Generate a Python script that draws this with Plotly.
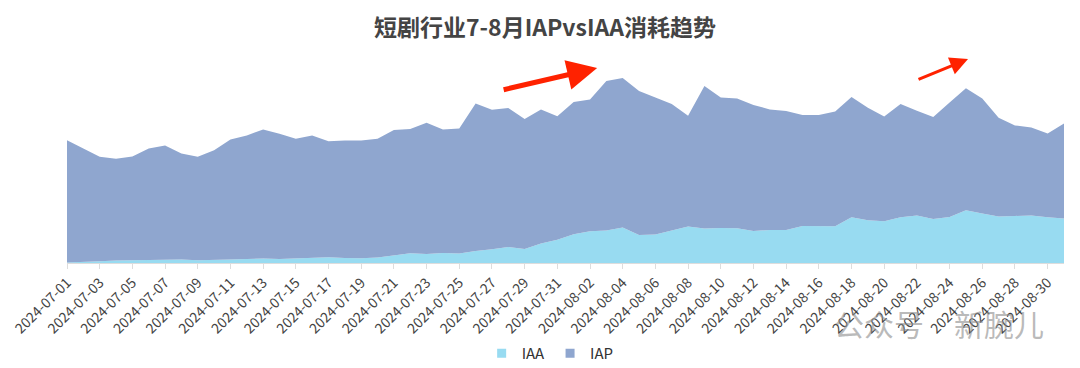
import pandas as pd
import plotly.graph_objects as go

dates = pd.date_range("2024-07-01", "2024-08-31", freq="D")

iaa = [0.5, 1.4, 1.7, 2.4, 2.7, 2.7, 3.4, 3.4, 2.7, 2.7,
       3.4, 4.0, 4.4, 4.0, 4.7, 4.7, 5.7, 5.0, 4.7, 5.4,
       7.7, 9.7, 9.0, 10.0, 9.4, 12.0, 13.7, 16.0, 14.0, 19.5,
       23.2, 28.7, 31.7, 32.4, 35.4, 28.0, 28.4, 32.4, 36.4, 34.4,
       35.0, 34.7, 32.0, 33.0, 33.0, 37.0, 36.7, 36.7, 45.7, 42.7,
       41.7, 45.7, 47.4, 44.0, 46.0, 52.7, 49.4, 46.4, 47.0, 47.4,
       45.7, 44.4]

iap = [122.2, 113.0, 104.3, 101.6, 103.7, 111.7, 114.0, 106.0, 103.3, 110.0,
       120.0, 123.4, 129.0, 125.0, 119.3, 122.7, 116.0, 117.4, 117.7, 118.6,
       125.0, 124.0, 131.0, 123.4, 125.0, 147.4, 139.3, 138.7, 129.7, 133.9,
       123.3, 132.0, 131.7, 149.3, 149.3, 143.7, 137.0, 126.3, 110.6, 142.3,
       130.4, 129.7, 125.7, 120.4, 118.7, 110.7, 111.0, 114.7, 120.0, 112.3,
       104.7, 113.0, 104.6, 101.7, 114.4, 121.7, 115.0, 98.6, 90.4, 88.0,
       83.7, 95.0]

series_names = ["IAA", "IAP"]
series_colors = ["#98dbf1", "#8fa6cf"]
title_text = "短剧行业7-8月IAPvsIAA消耗趋势"
watermark_text = "公众号\u3000新腕儿"
FONT = "Noto Sans CJK SC"

# page has an 8px body margin: the figure starts at (8, 8) in the window
OFF = 8
W, H = 1080 - OFF, 368 - OFF
L, R, T, B = 58.7, 16, 32, 105.3
pw, ph = W - L - R, H - T - B

fig = go.Figure()
for name, vals, col in zip(series_names, [iaa, iap], series_colors):
    fig.add_trace(go.Scatter(x=dates, y=vals, name=name, mode="lines", stackgroup="one",
                             line=dict(width=0, color=col), fillcolor=col, showlegend=False))
for name, col in zip(series_names, series_colors):
    fig.add_trace(go.Scatter(x=[None], y=[None], name=name, mode="markers",
                             marker=dict(symbol="square", size=9, color=col), showlegend=True))

def px(x, y):
    x -= OFF
    y -= OFF
    return (x - L) / pw, (H - B - y) / ph

annotations = []
for (hx, hy, tx, ty, w) in [(597, 68, 502, 90, 5), (968, 59, 917, 80, 3)]:
    x, y = px(hx, hy)
    annotations.append(dict(x=x, y=y, xref="paper", yref="paper", ax=tx - hx, ay=ty - hy,
                            showarrow=True, arrowhead=2, arrowsize=1.2, arrowwidth=w,
                            arrowcolor="#ff2200", text=""))
wx, wy = px(939, 323)
annotations.append(dict(x=wx, y=wy, xref="paper", yref="paper", text=watermark_text,
                        xanchor="center", yanchor="middle",
                        showarrow=False, font=dict(family=FONT, size=30, color="rgba(140,140,140,0.6)")))

lx, ly = px(550, 353)
fig.update_layout(
    width=W, height=H,
    margin=dict(l=L, r=R, t=T, b=B, autoexpand=False),
    paper_bgcolor="white", plot_bgcolor="white",
    title=dict(text=title_text, x=(545 - OFF) / W, xref="container", xanchor="center",
               y=1 - (28 - OFF) / H, yref="container", yanchor="middle",
               font=dict(family=FONT, size=23, color="#444444", weight="bold")),
    font=dict(family=FONT, color="#444444"),
    showlegend=True,
    legend=dict(orientation="h", x=lx, xref="paper", xanchor="center",
                y=ly, yref="paper", yanchor="middle", itemwidth=30,
                font=dict(family=FONT, size=15, color="#333333"), traceorder="normal"),
    annotations=annotations,
)
fig.update_xaxes(range=[dates[0], dates[-1]], tick0="2024-07-01", dtick=2 * 86400000,
                 tickformat="%Y-%m-%d", tickangle=-45, ticks="outside", ticklen=5,
                 tickcolor="#dddddd", showline=True, linecolor="#dddddd", showgrid=False,
                 tickfont=dict(family=FONT, size=14, color="#444444"), zeroline=False,
                 automargin=False)
fig.update_yaxes(range=[0, ph], visible=False, showgrid=False)

fig.write_html("out.html")
